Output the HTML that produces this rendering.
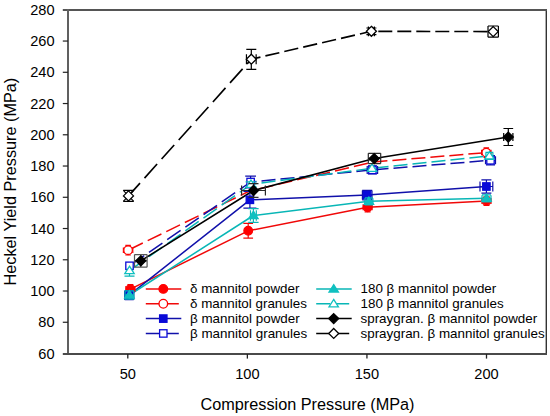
<!DOCTYPE html>
<html><head><meta charset="utf-8"><style>
html,body{margin:0;padding:0;background:#fff;width:550px;height:416px;overflow:hidden}
svg{display:block}
text{font-family:"Liberation Sans",sans-serif;fill:#000}
.t14{font-size:14.6px}
.t15{font-size:16.25px}
.t13{font-size:13.4px}
</style></head><body>
<svg width="550" height="416" viewBox="0 0 550 416">
<rect width="550" height="416" fill="#fff"/>
<path d="M546.3,9.9 V354" stroke="#333" stroke-width="1.4" fill="none"/>
<path d="M62.8,9.95 H547" stroke="#555" stroke-width="2" fill="none"/>
<path d="M68,9 V354.9" stroke="#606060" stroke-width="2" fill="none"/>
<path d="M62.8,354 H547" stroke="#4a4a4a" stroke-width="2" fill="none"/>
<text x="54.6" y="358.51" text-anchor="end" class="t14">60</text>
<path d="M62.8,322.26 H68" stroke="#222" stroke-width="1.2"/>
<text x="54.6" y="327.26" text-anchor="end" class="t14">80</text>
<path d="M62.8,291.01 H68" stroke="#222" stroke-width="1.2"/>
<text x="54.6" y="296.01" text-anchor="end" class="t14">100</text>
<path d="M62.8,259.77 H68" stroke="#222" stroke-width="1.2"/>
<text x="54.6" y="264.77" text-anchor="end" class="t14">120</text>
<path d="M62.8,228.52 H68" stroke="#222" stroke-width="1.2"/>
<text x="54.6" y="233.52" text-anchor="end" class="t14">140</text>
<path d="M62.8,197.28 H68" stroke="#222" stroke-width="1.2"/>
<text x="54.6" y="202.28" text-anchor="end" class="t14">160</text>
<path d="M62.8,166.03 H68" stroke="#222" stroke-width="1.2"/>
<text x="54.6" y="171.03" text-anchor="end" class="t14">180</text>
<path d="M62.8,134.78 H68" stroke="#222" stroke-width="1.2"/>
<text x="54.6" y="139.78" text-anchor="end" class="t14">200</text>
<path d="M62.8,103.54 H68" stroke="#222" stroke-width="1.2"/>
<text x="54.6" y="108.54" text-anchor="end" class="t14">220</text>
<path d="M62.8,72.29 H68" stroke="#222" stroke-width="1.2"/>
<text x="54.6" y="77.29" text-anchor="end" class="t14">240</text>
<path d="M62.8,41.05 H68" stroke="#222" stroke-width="1.2"/>
<text x="54.6" y="46.05" text-anchor="end" class="t14">260</text>
<text x="54.6" y="14.80" text-anchor="end" class="t14">280</text>
<path d="M127.80,354 V358.6" stroke="#222" stroke-width="1.3"/>
<text x="127.80" y="379.2" text-anchor="middle" class="t14">50</text>
<path d="M247.37,354 V358.6" stroke="#222" stroke-width="1.3"/>
<text x="247.37" y="379.2" text-anchor="middle" class="t14">100</text>
<path d="M366.93,354 V358.6" stroke="#222" stroke-width="1.3"/>
<text x="366.93" y="379.2" text-anchor="middle" class="t14">150</text>
<path d="M486.50,354 V358.6" stroke="#222" stroke-width="1.3"/>
<text x="486.50" y="379.2" text-anchor="middle" class="t14">200</text>
<text x="307.5" y="409.5" text-anchor="middle" class="t15">Compression Pressure (MPa)</text>
<text transform="translate(15.6,181.6) rotate(-90)" x="0" y="0" text-anchor="middle" class="t15">Heckel Yield Pressure (MPa)</text>
<polyline points="130.40,289.10 248.20,230.80 367.60,207.30 486.50,201.00" fill="none" stroke="#f00808" stroke-width="1.5" stroke-linejoin="round"/>
<path d="M129.11,249.71L142.81,243.03M147.70,240.64L161.40,233.96M166.29,231.58L179.98,224.90M184.87,222.51L198.57,215.84M203.46,213.45L217.16,206.77M222.05,204.39L235.74,197.71M240.63,195.32L249.50,191.00M249.50,191.00L254.41,189.85M259.39,188.69L273.31,185.43M278.29,184.27L292.22,181.01M297.19,179.85L311.12,176.59M316.09,175.43L330.02,172.17M335.00,171.00L348.92,167.75M353.90,166.58L367.83,163.33M372.80,162.16L373.50,162.00M373.50,162.00L387.40,160.84M392.40,160.43L406.39,159.26M411.39,158.84L425.38,157.68M430.38,157.26L444.37,156.09M449.36,155.68L463.35,154.51M468.35,154.10L482.34,152.93" fill="none" stroke="#f00808" stroke-width="1.5"/>
<polyline points="129.20,295.20 249.90,199.80 367.20,195.10 486.40,186.50" fill="none" stroke="#1010aa" stroke-width="1.5" stroke-linejoin="round"/>
<path d="M130.81,264.90L144.21,255.62M149.00,252.31L162.41,243.03M167.19,239.72L180.60,230.44M185.39,227.13L198.80,217.85M203.58,214.54L216.99,205.26M221.78,201.94L235.18,192.67M239.97,189.35L250.60,182.00M250.60,182.00L256.50,181.41M261.50,180.92L275.49,179.53M280.48,179.03L294.47,177.64M299.46,177.15L313.45,175.76M318.45,175.26L332.43,173.87M337.43,173.37L351.42,171.98M356.41,171.49L370.40,170.10M374.51,169.73L388.50,168.59M393.50,168.18L407.49,167.05M412.49,166.64L426.48,165.50M431.48,165.10L445.47,163.96M450.46,163.55L464.46,162.42M469.45,162.01L483.44,160.87M488.44,160.47L490.50,160.30" fill="none" stroke="#1010aa" stroke-width="1.5"/>
<polyline points="129.40,295.00 253.40,215.50 368.90,201.30 486.50,198.30" fill="none" stroke="#08b6b6" stroke-width="1.5" stroke-linejoin="round"/>
<path d="M130.84,269.55L144.22,260.06M149.00,256.67L162.38,247.17M167.16,243.78L180.53,234.29M185.31,230.90L198.69,221.41M203.47,218.02L216.85,208.53M221.62,205.14L235.00,195.65M239.78,192.26L251.00,184.30M251.00,184.30L256.51,183.57M261.50,182.91L275.48,181.06M280.47,180.40L294.45,178.56M299.44,177.90L313.41,176.05M318.41,175.39L332.38,173.54M337.37,172.88L351.35,171.03M356.34,170.37L370.32,168.52M374.52,168.03L388.51,166.56M393.50,166.03L407.49,164.55M412.48,164.02L426.47,162.55M431.46,162.02L445.45,160.54M450.44,160.02L464.43,158.54M469.42,158.01L483.41,156.53M488.40,156.01L489.40,155.90" fill="none" stroke="#08b6b6" stroke-width="1.5"/>
<polyline points="140.80,260.80 253.50,190.50 374.20,158.60 508.30,137.10" fill="none" stroke="#000000" stroke-width="1.5" stroke-linejoin="round"/>
<path d="M128.50,195.90L140.00,183.10M144.50,178.09L157.10,164.06M161.60,159.05L174.20,145.02M178.70,140.01L191.31,125.98M195.81,120.97L208.41,106.95M212.91,101.94L225.51,87.91M230.01,82.90L242.61,68.87M247.11,63.86L251.30,59.20M251.30,59.20L260.43,57.08M265.40,55.92L279.33,52.69M284.30,51.53L298.23,48.30M303.21,47.14L317.14,43.91M322.11,42.75L336.04,39.51M341.02,38.36L354.94,35.12M359.92,33.97L371.40,31.30M371.40,31.30L373.30,31.30M378.30,31.32L392.30,31.35M397.30,31.36L411.30,31.40M416.30,31.41L430.30,31.45M435.30,31.46L449.30,31.49M454.30,31.50L468.30,31.54M473.30,31.55L487.30,31.59M492.30,31.60L493.20,31.60" fill="none" stroke="#000000" stroke-width="1.65"/>
<path d="M130.40,284.60V293.60M127.40,284.60H133.40M127.40,293.60H133.40M125.90,289.10H134.90M125.90,286.10V292.10M134.90,286.10V292.10" stroke="#f00808" stroke-width="1.2" fill="none"/>
<path d="M248.20,223.40V238.20M243.35,223.40H253.05M243.35,238.20H253.05" stroke="#f00808" stroke-width="1.2" fill="none"/>
<path d="M367.60,202.80V211.80M364.60,202.80H370.60M364.60,211.80H370.60M363.10,207.30H372.10M363.10,204.30V210.30M372.10,204.30V210.30" stroke="#f00808" stroke-width="1.2" fill="none"/>
<path d="M486.50,196.50V205.50M483.50,196.50H489.50M483.50,205.50H489.50M482.00,201.00H491.00M482.00,198.00V204.00M491.00,198.00V204.00" stroke="#f00808" stroke-width="1.2" fill="none"/>
<circle cx="130.40" cy="289.10" r="4.30" fill="#ff0000" stroke="#ff0000" stroke-width="1.3"/>
<circle cx="248.20" cy="230.80" r="4.30" fill="#ff0000" stroke="#ff0000" stroke-width="1.3"/>
<circle cx="367.60" cy="207.30" r="4.30" fill="#ff0000" stroke="#ff0000" stroke-width="1.3"/>
<circle cx="486.50" cy="201.00" r="4.30" fill="#ff0000" stroke="#ff0000" stroke-width="1.3"/>
<path d="M128.10,245.40V255.00M125.35,245.40H130.85M125.35,255.00H130.85M123.40,250.20H132.80M123.40,247.45V252.95M132.80,247.45V252.95" stroke="#f00808" stroke-width="1.2" fill="none"/>
<path d="M486.30,147.80V157.40M483.55,147.80H489.05M483.55,157.40H489.05M481.60,152.60H491.00M481.60,149.85V155.35M491.00,149.85V155.35" stroke="#f00808" stroke-width="1.2" fill="none"/>
<circle cx="128.10" cy="250.20" r="4.30" fill="#ffffff" stroke="#ff0000" stroke-width="1.3"/>
<circle cx="486.30" cy="152.60" r="4.30" fill="#ffffff" stroke="#ff0000" stroke-width="1.3"/>
<path d="M129.20,290.70V299.70M124.70,290.70H133.70M124.70,299.70H133.70M124.60,295.20H133.80M124.60,290.70V299.70M133.80,290.70V299.70" stroke="#1010aa" stroke-width="1.2" fill="none"/>
<path d="M249.90,191.50V208.10M243.40,191.50H256.40M243.40,208.10H256.40" stroke="#1010aa" stroke-width="1.2" fill="none"/>
<path d="M367.20,190.30V199.90M362.20,190.30H372.20M362.20,199.90H372.20M362.40,195.10H372.00M362.40,190.60V199.60M372.00,190.60V199.60" stroke="#1010aa" stroke-width="1.2" fill="none"/>
<path d="M486.40,179.80V193.20M481.40,179.80H491.40M481.40,193.20H491.40M480.00,186.50H492.80M480.00,181.50V191.50M492.80,181.50V191.50" stroke="#1010aa" stroke-width="1.2" fill="none"/>
<rect x="125.50" y="291.50" width="7.40" height="7.40" fill="#0a0ad8" stroke="#0a0ad8" stroke-width="1.3"/>
<rect x="246.20" y="196.10" width="7.40" height="7.40" fill="#0a0ad8" stroke="#0a0ad8" stroke-width="1.3"/>
<rect x="363.50" y="191.40" width="7.40" height="7.40" fill="#0a0ad8" stroke="#0a0ad8" stroke-width="1.3"/>
<rect x="482.70" y="182.80" width="7.40" height="7.40" fill="#0a0ad8" stroke="#0a0ad8" stroke-width="1.3"/>
<path d="M250.60,176.20V187.80M245.20,176.20H256.00M245.20,187.80H256.00" stroke="#1010aa" stroke-width="1.2" fill="none"/>
<path d="M372.40,165.90V173.90M367.90,165.90H376.90M367.90,173.90H376.90M367.20,169.90H377.60M367.20,165.90V173.90M377.60,165.90V173.90" stroke="#1010aa" stroke-width="1.2" fill="none"/>
<path d="M490.50,155.70V164.90M486.00,155.70H495.00M486.00,164.90H495.00M485.50,160.30H495.50M485.50,156.30V164.30M495.50,156.30V164.30" stroke="#1010aa" stroke-width="1.2" fill="none"/>
<rect x="125.80" y="262.10" width="7.40" height="7.40" fill="#ffffff" stroke="#0a0ad8" stroke-width="1.3"/>
<rect x="246.90" y="178.30" width="7.40" height="7.40" fill="#ffffff" stroke="#0a0ad8" stroke-width="1.3"/>
<rect x="368.70" y="166.20" width="7.40" height="7.40" fill="#ffffff" stroke="#0a0ad8" stroke-width="1.3"/>
<rect x="486.80" y="156.60" width="7.40" height="7.40" fill="#ffffff" stroke="#0a0ad8" stroke-width="1.3"/>
<path d="M129.40,290.80V299.20M124.70,290.80H134.10M124.70,299.20H134.10M125.00,295.00H133.80M125.00,290.80V299.20M133.80,290.80V299.20" stroke="#08b6b6" stroke-width="1.2" fill="none"/>
<path d="M253.40,208.70V222.30M248.20,208.70H258.60M248.20,222.30H258.60M250.50,215.50H256.30M250.50,210.25V220.75M256.30,210.25V220.75" stroke="#08b6b6" stroke-width="1.2" fill="none"/>
<path d="M368.90,197.80V204.80M364.90,197.80H372.90M364.90,204.80H372.90M364.90,201.30H372.90M364.90,198.30V204.30M372.90,198.30V204.30" stroke="#08b6b6" stroke-width="1.2" fill="none"/>
<path d="M486.50,194.80V201.80M482.00,194.80H491.00M482.00,201.80H491.00M482.00,198.30H491.00M482.00,195.30V201.30M491.00,195.30V201.30" stroke="#08b6b6" stroke-width="1.2" fill="none"/>
<path d="M129.40,290.70 L134.10,298.10 L124.70,298.10 Z" fill="#10c0c0" stroke="#10c0c0" stroke-width="1.3"/>
<path d="M253.40,211.20 L258.10,218.60 L248.70,218.60 Z" fill="#10c0c0" stroke="#10c0c0" stroke-width="1.3"/>
<path d="M368.90,197.00 L373.60,204.40 L364.20,204.40 Z" fill="#10c0c0" stroke="#10c0c0" stroke-width="1.3"/>
<path d="M486.50,194.00 L491.20,201.40 L481.80,201.40 Z" fill="#10c0c0" stroke="#10c0c0" stroke-width="1.3"/>
<path d="M251.00,181.90V186.70M245.60,181.90H256.40M245.60,186.70H256.40" stroke="#08b6b6" stroke-width="1.2" fill="none"/>
<path d="M489.40,152.40V159.40M485.40,152.40H493.40M485.40,159.40H493.40M485.90,155.90H492.90M485.90,152.90V158.90M492.90,152.90V158.90" stroke="#08b6b6" stroke-width="1.2" fill="none"/>
<path d="M129.5,270.5V276.2M124.5,276.2H134.5" stroke="#08b6b6" stroke-width="1.2" fill="none"/>
<path d="M129.50,266.20 L134.20,273.60 L124.80,273.60 Z" fill="#ffffff" stroke="#10c0c0" stroke-width="1.3"/>
<path d="M251.00,180.00 L255.70,187.40 L246.30,187.40 Z" fill="#ffffff" stroke="#10c0c0" stroke-width="1.3"/>
<path d="M372.00,164.00 L376.70,171.40 L367.30,171.40 Z" fill="#ffffff" stroke="#10c0c0" stroke-width="1.3"/>
<path d="M489.40,151.60 L494.10,159.00 L484.70,159.00 Z" fill="#ffffff" stroke="#10c0c0" stroke-width="1.3"/>
<path d="M140.80,254.60V267.20M134.50,254.60H147.10M134.50,267.20H147.10M134.50,260.90H147.10M134.50,254.60V267.20M147.10,254.60V267.20" stroke="#555" stroke-width="1.2" fill="none"/>
<path d="M253.50,183.60V197.40M248.50,183.60H258.50M248.50,197.40H258.50M241.60,190.50H265.40M241.60,185.50V195.50M265.40,185.50V195.50" stroke="#2a2a2a" stroke-width="1.2" fill="none"/>
<path d="M374.50,153.30V163.60M368.30,153.30H380.70M368.30,163.60H380.70M368.30,158.45H380.70M368.30,153.30V163.60M380.70,153.30V163.60" stroke="#2a2a2a" stroke-width="1.2" fill="none"/>
<path d="M508.30,128.50V145.50M503.45,128.50H513.15M503.45,145.50H513.15M503.70,137.00H512.90M503.70,133.00V141.00M512.90,133.00V141.00" stroke="#000000" stroke-width="1.2" fill="none"/>
<path d="M140.80,255.80 L145.80,260.80 L140.80,265.80 L135.80,260.80 Z" fill="#000000" stroke="#000000" stroke-width="1.3"/>
<path d="M253.50,185.50 L258.50,190.50 L253.50,195.50 L248.50,190.50 Z" fill="#000000" stroke="#000000" stroke-width="1.3"/>
<path d="M374.20,153.60 L379.20,158.60 L374.20,163.60 L369.20,158.60 Z" fill="#000000" stroke="#000000" stroke-width="1.3"/>
<path d="M508.30,132.10 L513.30,137.10 L508.30,142.10 L503.30,137.10 Z" fill="#000000" stroke="#000000" stroke-width="1.3"/>
<path d="M128.50,190.45V201.35M123.30,190.45H133.70M123.30,201.35H133.70" stroke="#000000" stroke-width="1.2" fill="none"/>
<path d="M123.3,190.45 L128.5,195.9 L133.7,190.45 M123.3,201.35 L128.5,195.9 L133.7,201.35" stroke="#000" stroke-width="1.1" fill="none"/>
<path d="M251.30,49.30V69.30M246.30,49.30H256.30M246.30,69.30H256.30M246.45,59.30H256.15M246.45,54.30V64.30M256.15,54.30V64.30" stroke="#000000" stroke-width="1.2" fill="none"/>
<path d="M371.40,28.00V34.60M366.40,28.00H376.40M366.40,34.60H376.40M368.40,31.30H374.40M368.40,26.40V36.20M374.40,26.40V36.20" stroke="#000000" stroke-width="1.2" fill="none"/>
<path d="M493.20,26.00V37.20M488.00,26.00H498.40M488.00,37.20H498.40M488.00,31.60H498.40M488.00,26.00V37.20M498.40,26.00V37.20" stroke="#000000" stroke-width="1.2" fill="none"/>
<path d="M128.50,190.90 L133.50,195.90 L128.50,200.90 L123.50,195.90 Z" fill="#ffffff" stroke="#000000" stroke-width="1.3"/>
<path d="M251.30,54.20 L256.30,59.20 L251.30,64.20 L246.30,59.20 Z" fill="#ffffff" stroke="#000000" stroke-width="1.3"/>
<path d="M371.40,26.30 L376.40,31.30 L371.40,36.30 L366.40,31.30 Z" fill="#ffffff" stroke="#000000" stroke-width="1.3"/>
<path d="M493.20,26.60 L498.20,31.60 L493.20,36.60 L488.20,31.60 Z" fill="#ffffff" stroke="#000000" stroke-width="1.3"/>
<path d="M145.80,288.90 H181.30" stroke="#f00808" stroke-width="1.5"/>
<circle cx="163.30" cy="288.90" r="4.30" fill="#ff0000" stroke="#ff0000" stroke-width="1.3"/>
<text x="190.00" y="293.20" class="t13">δ mannitol powder</text>
<path d="M145.80,303.75 H159.80 M164.80,303.75 H178.80" stroke="#f00808" stroke-width="1.5"/>
<circle cx="163.30" cy="303.75" r="4.30" fill="#ffffff" stroke="#ff0000" stroke-width="1.3"/>
<text x="190.00" y="308.05" class="t13">δ mannitol granules</text>
<path d="M145.80,318.60 H181.30" stroke="#1010aa" stroke-width="1.5"/>
<rect x="159.60" y="314.90" width="7.40" height="7.40" fill="#0a0ad8" stroke="#0a0ad8" stroke-width="1.3"/>
<text x="190.00" y="322.90" class="t13">β mannitol powder</text>
<path d="M145.80,333.45 H159.80 M164.80,333.45 H178.80" stroke="#1010aa" stroke-width="1.5"/>
<rect x="159.60" y="329.75" width="7.40" height="7.40" fill="#ffffff" stroke="#0a0ad8" stroke-width="1.3"/>
<text x="190.00" y="337.75" class="t13">β mannitol granules</text>
<path d="M316.20,288.90 H351.70" stroke="#08b6b6" stroke-width="1.5"/>
<path d="M333.70,284.60 L338.40,292.00 L329.00,292.00 Z" fill="#10c0c0" stroke="#10c0c0" stroke-width="1.3"/>
<text x="360.50" y="293.20" class="t13">180 β mannitol powder</text>
<path d="M316.20,303.75 H330.20 M335.20,303.75 H349.20" stroke="#08b6b6" stroke-width="1.5"/>
<path d="M333.70,299.45 L338.40,306.85 L329.00,306.85 Z" fill="#ffffff" stroke="#10c0c0" stroke-width="1.3"/>
<text x="360.50" y="308.05" class="t13">180 β mannitol granules</text>
<path d="M316.20,318.60 H351.70" stroke="#000000" stroke-width="1.5"/>
<path d="M333.70,313.60 L338.70,318.60 L333.70,323.60 L328.70,318.60 Z" fill="#000000" stroke="#000000" stroke-width="1.3"/>
<text x="360.50" y="322.90" class="t13">spraygran. β mannitol powder</text>
<path d="M316.20,333.45 H330.20 M335.20,333.45 H349.20" stroke="#000000" stroke-width="1.5"/>
<path d="M333.70,328.45 L338.70,333.45 L333.70,338.45 L328.70,333.45 Z" fill="#ffffff" stroke="#000000" stroke-width="1.3"/>
<text x="360.50" y="337.75" class="t13">spraygran. β mannitol granules</text>
</svg>
</body></html>
